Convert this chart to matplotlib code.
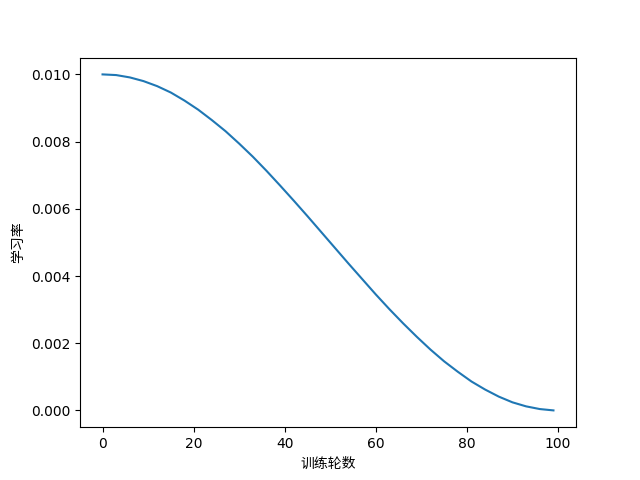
import matplotlib
matplotlib.use("Agg")
import matplotlib.pyplot as plt

cjk = ['Noto Sans CJK SC', 'DejaVu Sans']

# epochs and learning rate
epochs = [0, 3, 6, 9, 12, 15, 18, 21, 24, 27, 30, 33, 36, 39, 42, 45, 48,
          51, 54, 57, 60, 63, 66, 69, 72, 75, 78, 81, 84, 87, 90, 93, 96, 99]
lr = [0.01000, 0.00998, 0.00991, 0.00980, 0.00965, 0.00946, 0.00922,
      0.00895, 0.00864, 0.00831, 0.00794, 0.00755, 0.00713, 0.00669,
      0.00624, 0.00578, 0.00531, 0.00484, 0.00437, 0.00391, 0.00345,
      0.00301, 0.00259, 0.00219, 0.00181, 0.00146, 0.00115, 0.00086,
      0.00062, 0.00041, 0.00024, 0.00012, 0.00004, 0.00000]

plt.figure(figsize=(6.4, 4.8), dpi=100)
plt.plot(epochs, lr)
plt.xlabel("训练轮数", family=cjk)
plt.ylabel("学习率", family=cjk)
plt.savefig("out.png")
